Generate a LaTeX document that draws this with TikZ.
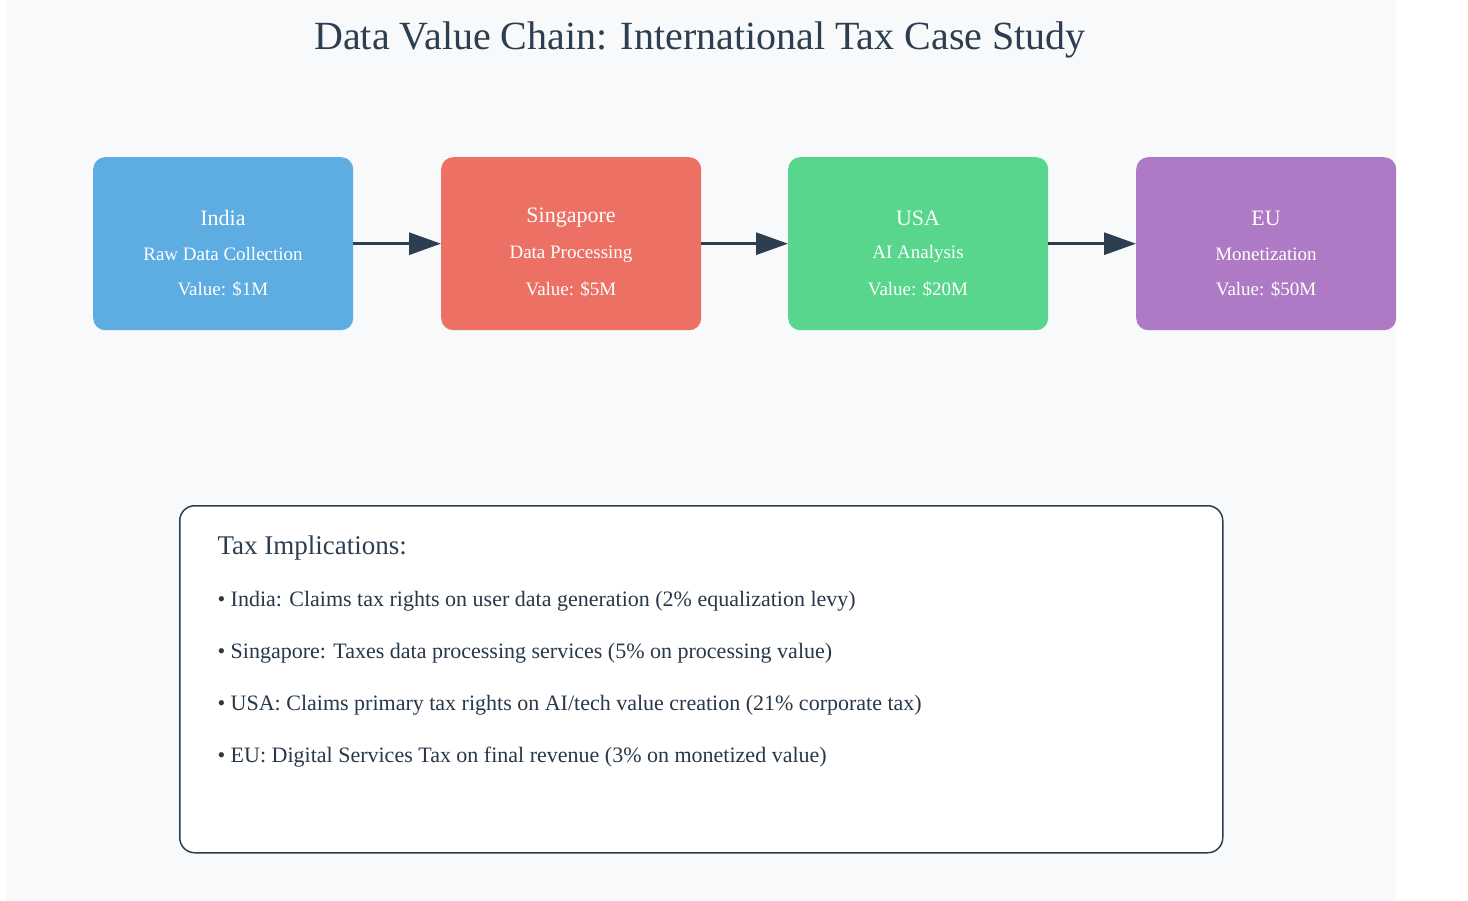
\documentclass[tikz,border=0pt]{standalone}
\usepackage{fontspec}
\setmainfont{Liberation Serif}
\usetikzlibrary{arrows.meta}
\definecolor{bg}{HTML}{F8F9FA}
\definecolor{dark}{HTML}{2C3E50}
\definecolor{cIndia}{HTML}{5DADE2}
\definecolor{cSing}{HTML}{EC7063}
\definecolor{cUSA}{HTML}{58D68D}
\definecolor{cEU}{HTML}{AF7AC5}
\tikzset{
 stagebox/.style={rounded corners=12pt,minimum width=260pt,minimum height=173pt,anchor=north west,inner sep=0pt},
 lab/.style={text=white,font=\fontsize{22}{26}\selectfont},
 sub/.style={text=white,font=\fontsize{19}{22}\selectfont},
 flow/.style={draw=dark,line width=3pt,-{Triangle[length=32pt,width=22pt]}},
 bullet/.style={anchor=west,text=dark!90!black,font=\fontsize{22}{26}\selectfont}
}
\begin{document}
\begin{tikzpicture}[x=1pt,y=-1pt]
\useasboundingbox (0,0) rectangle (1468,901);
\fill[white] (0,0) rectangle (1468,901);
\fill[bg] (6,0) rectangle (1396,901);
\node[text=dark,font=\fontsize{40}{48}\selectfont] (title) at (700,40) {Data Value Chain: International Tax Case Study};
\foreach \n/\x/\c/\a/\b/\v in {india/93/cIndia/India/Raw Data Collection/\$1M, sing/441/cSing/Singapore/Data Processing/\$5M, usa/788/cUSA/USA/AI Analysis/\$20M, eu/1136/cEU/EU/Monetization/\$50M}{
 \node[stagebox,fill=\c] (\n) at (\x,157) {};
 \node[lab] (\n-t) at (\x+130,218) {\a};
 \node[sub] (\n-s) at (\x+130,254) {\b};
 \node[sub] (\n-v) at (\x+130,289) {Value: \v};
}
\draw[flow] (india.east) -- (sing.west);
\draw[flow] (sing.east) -- (usa.west);
\draw[flow] (usa.east) -- (eu.west);
\node[draw=dark,line width=1.5pt,fill=white,rounded corners=15pt,minimum width=1043pt,minimum height=347pt,anchor=north west] (tax) at (179,505) {};
\node[anchor=west,text=dark,font=\fontsize{27}{32}\selectfont] (taxt) at (214,548) {Tax Implications:};
\node[bullet] (b1) at (214,601) {• India: Claims tax rights on user data generation (2\% equalization levy)};
\node[bullet] (b2) at (214,653) {• Singapore: Taxes data processing services (5\% on processing value)};
\node[bullet] (b3) at (214,705) {• USA: Claims primary tax rights on AI/tech value creation (21\% corporate tax)};
\node[bullet] (b4) at (214,757) {• EU: Digital Services Tax on final revenue (3\% on monetized value)};
\end{tikzpicture}
\end{document}
